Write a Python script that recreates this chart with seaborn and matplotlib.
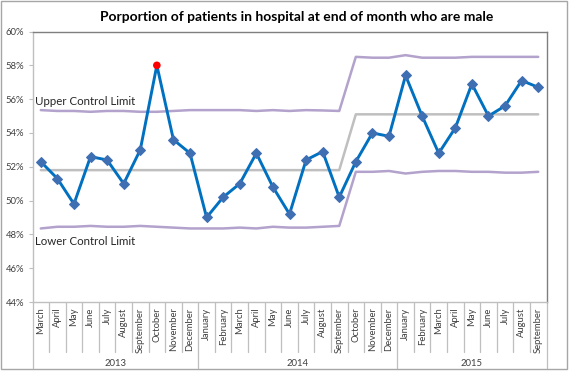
import matplotlib
matplotlib.use("Agg")
import matplotlib.pyplot as plt
import matplotlib.transforms as mtransforms
from matplotlib.patches import Rectangle
import seaborn as sns
import pandas as pd

months = ["March", "April", "May", "June", "July", "August", "September", "October", "November", "December",
          "January", "February", "March", "April", "May", "June", "July", "August", "September", "October", "November", "December",
          "January", "February", "March", "April", "May", "June", "July", "August", "September"]
years = ["2013", "2014", "2015"]
year_counts = [10, 12, 9]

proportion = [52.3, 51.3, 49.8, 52.6, 52.4, 51.0, 53.0, 58.0, 53.6, 52.8,
              49.0, 50.2, 51.0, 52.8, 50.8, 49.2, 52.4, 52.9, 50.2, 52.3, 54.0, 53.8,
              57.4, 55.0, 52.8, 54.3, 56.9, 55.0, 55.6, 57.1, 56.7]
centre = [51.8, 51.8, 51.8, 51.8, 51.8, 51.8, 51.8, 51.8, 51.8, 51.8,
          51.8, 51.8, 51.8, 51.8, 51.8, 51.8, 51.8, 51.8, 51.8, 55.1, 55.1, 55.1,
          55.1, 55.1, 55.1, 55.1, 55.1, 55.1, 55.1, 55.1, 55.1]
ucl = [55.35, 55.3, 55.3, 55.25, 55.3, 55.3, 55.25, 55.25, 55.3, 55.35,
       55.35, 55.35, 55.35, 55.3, 55.35, 55.3, 55.35, 55.33, 55.3, 58.5, 58.45, 58.45,
       58.6, 58.45, 58.45, 58.45, 58.5, 58.5, 58.5, 58.5, 58.5]
lcl = [48.35, 48.45, 48.45, 48.5, 48.45, 48.45, 48.5, 48.45, 48.4, 48.35,
       48.35, 48.35, 48.4, 48.35, 48.45, 48.4, 48.4, 48.45, 48.5, 51.7, 51.7, 51.75,
       51.6, 51.7, 51.75, 51.75, 51.7, 51.7, 51.65, 51.65, 51.7]
outlier_index = [7]
yticks = [44, 46, 48, 50, 52, 54, 56, 58, 60]

sns.set_style("white")
plt.rcParams["font.family"] = ["Lato", "DejaVu Sans"]

df = pd.DataFrame({"pos": list(range(len(months))), "month": months, "value": proportion,
                   "centre": centre, "ucl": ucl, "lcl": lcl})

fig = plt.figure(figsize=(5.7, 3.71), dpi=100)
ax = fig.add_axes([32.5 / 570, 69 / 371, 514 / 570, 270.5 / 371])

purple = "#B3A2CC"
sns.lineplot(data=df, x="pos", y="ucl", ax=ax, color=purple, lw=1.8)
sns.lineplot(data=df, x="pos", y="lcl", ax=ax, color=purple, lw=1.8)
sns.lineplot(data=df, x="pos", y="centre", ax=ax, color="#BFBFBF", lw=1.8)
normal = df.drop(index=outlier_index)
sns.lineplot(data=df, x="pos", y="value", ax=ax, color="#0070C0", lw=2.1)
sns.lineplot(data=normal, x="pos", y="value", ax=ax, lw=0, marker="D", markersize=4.6,
             markerfacecolor="#3F6FB3", markeredgecolor="#3F6FB3")
out = df.iloc[outlier_index]
sns.scatterplot(data=out, x="pos", y="value", ax=ax, color="#FF0000", s=30, edgecolor="none", zorder=5)

ax.set_xlim(-0.5, len(months) - 0.5)
ax.set_ylim(yticks[0], yticks[-1])
ax.set_yticks(yticks)
ax.set_yticklabels([f"{v}%" for v in yticks], fontsize=6.8, color="#404040")
ax.set_xticks(range(len(months)))
ax.set_xticklabels(months, rotation=90, fontsize=6.8, color="#404040", va="top")
ax.tick_params(axis="x", length=0, pad=4)
ax.tick_params(axis="y", length=3, color="#BFBFBF", direction="out", left=True, pad=3)
ax.set_xlabel("")
ax.set_ylabel("")
ax.grid(False)
for s in ["left", "bottom"]:
    ax.spines[s].set_color("#BFBFBF")
    ax.spines[s].set_linewidth(1.0)
for s in ["top", "right"]:
    ax.spines[s].set_color("#7F7F7F")
    ax.spines[s].set_linewidth(1.0)

ax.text(-0.35, 55.85, "Upper Control Limit", fontsize=8.3, color="#262626", va="center", ha="left")
ax.text(-0.35, 47.6, "Lower Control Limit", fontsize=8.3, color="#262626", va="center", ha="left")

trans = mtransforms.blended_transform_factory(ax.transData, ax.transAxes)
major = [-0.5]
acc = -0.5
for c in year_counts:
    acc += c
    major.append(acc)
for i in range(len(months) + 1):
    b = i - 0.5
    y1 = -0.244 if b in major else -0.185
    ax.plot([b, b], [0, y1], transform=trans, color="#BFBFBF", lw=0.9, clip_on=False)
start = -0.5
for yr, c in zip(years, year_counts):
    ax.text(start + c / 2, -0.228, yr, transform=trans, ha="center", va="center",
            fontsize=6.8, color="#404040")
    start += c

fig.text(296.5 / 570, (371 - 17) / 371, "Porportion of patients in hospital at end of month who are male",
         ha="center", va="center", fontsize=10, fontweight="bold", color="#000000")
fig.patches.append(Rectangle((0.5 / 570, 2.5 / 371), 566.5 / 570, 368 / 371, transform=fig.transFigure,
                             fill=False, edgecolor="#A6A6A6", lw=1.0))

fig.savefig("out.png", dpi=100)
